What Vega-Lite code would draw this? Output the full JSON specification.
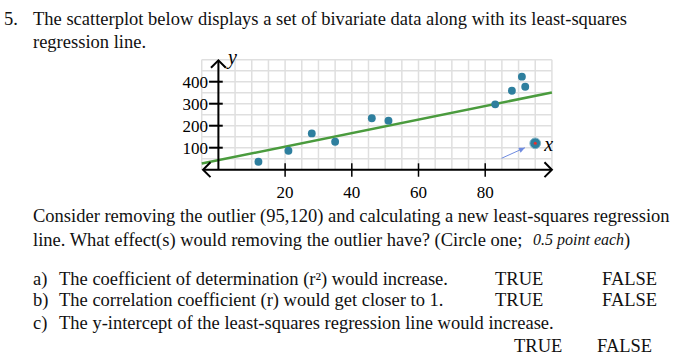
{
  "$schema": "https://vega.github.io/schema/vega-lite/v6.json",
  "width": 681,
  "height": 360,
  "padding": 0,
  "autosize": {"type": "none"},
  "background": "white",
  "config": {"view": {"stroke": null}, "axis": {"disable": true}},
  "datasets": {
    "gridx": [{"v": -5}, {"v": 0}, {"v": 5}, {"v": 10}, {"v": 15}, {"v": 20}, {"v": 25}, {"v": 30}, {"v": 35}, {"v": 40}, {"v": 45}, {"v": 50}, {"v": 55}, {"v": 60}, {"v": 65}, {"v": 70}, {"v": 75}, {"v": 80}, {"v": 85}, {"v": 90}, {"v": 95}, {"v": 100}],
    "gridy": [{"v": 0}, {"v": 50}, {"v": 100}, {"v": 150}, {"v": 200}, {"v": 250}, {"v": 300}, {"v": 350}, {"v": 400}, {"v": 450}, {"v": 500}],
    "pts": [{"x": 12, "y": 36}, {"x": 21, "y": 86}, {"x": 28, "y": 165}, {"x": 35, "y": 127}, {"x": 46, "y": 234}, {"x": 51, "y": 223}, {"x": 83, "y": 297}, {"x": 88, "y": 359}, {"x": 91, "y": 423}, {"x": 92, "y": 377}],
    "outlier": [{"x": 95, "y": 120}],
    "lsrl": [{"x": -5, "y": 28}, {"x": 100, "y": 351}],
    "heads": [{"x": -4.6, "y": 0, "dir": "left"}, {"x": 100, "y": 0, "dir": "right"}, {"x": 0, "y": 497, "dir": "up"}],
    "yticks": [{"v": 100}, {"v": 200}, {"v": 300}, {"v": 400}],
    "xticks": [{"v": 20}, {"v": 40}, {"v": 60}, {"v": 80}],
    "pointer": [{"x": 84.9, "y": 51.8, "x2": 91.9, "y2": 100}],
    "varlabels": [{"x": 4.2, "y": 508, "t": "y"}, {"x": 99, "y": 114, "t": "x"}],
    "text": [
      {"col": 4, "row": 19, "t": "5."},
      {"col": 33, "row": 19, "t": "The scatterplot below displays a set of bivariate data along with its least-squares"},
      {"col": 33, "row": 42, "t": "regression line."},
      {"col": 33, "row": 216, "t": "Consider removing the outlier (95,120) and calculating a new least-squares regression"},
      {"col": 33, "row": 240, "t": "line. What effect(s) would removing the outlier have? (Circle one; "},
      {"col": 624, "row": 240, "t": ")"},
      {"col": 33, "row": 279, "t": "a)"},
      {"col": 59, "row": 279, "t": "The coefficient of determination (r²) would increase."},
      {"col": 495, "row": 279, "t": "TRUE"},
      {"col": 602, "row": 279, "t": "FALSE"},
      {"col": 33, "row": 300, "t": "b)"},
      {"col": 59, "row": 300, "t": "The correlation coefficient (r) would get closer to 1."},
      {"col": 495, "row": 300, "t": "TRUE"},
      {"col": 602, "row": 300, "t": "FALSE"},
      {"col": 33, "row": 323, "t": "c)"},
      {"col": 59, "row": 323, "t": "The y-intercept of the least-squares regression line would increase."},
      {"col": 514, "row": 346, "t": "TRUE"},
      {"col": 597, "row": 346, "t": "FALSE"}
    ],
    "italic": [{"col": 533, "row": 240, "t": "0.5 point each"}]
  },
  "layer": [
    {
      "layer": [
        {
          "data": {"name": "gridx"},
          "mark": {"type": "rule", "color": "#dfdfdf", "strokeWidth": 1.5},
          "encoding": {
            "x": {"field": "v", "type": "quantitative", "scale": {"domain": [-65.49, 138.71], "nice": false, "zero": false}, "axis": null},
            "y": {"datum": 0, "type": "quantitative", "scale": {"domain": [-865, 771.4], "nice": false, "zero": false}, "axis": null},
            "y2": {"datum": 500}
          }
        },
        {
          "data": {"name": "gridy"},
          "mark": {"type": "rule", "color": "#dfdfdf", "strokeWidth": 1.5},
          "encoding": {
            "y": {"field": "v", "type": "quantitative", "axis": null},
            "x": {"datum": -5, "type": "quantitative", "axis": null},
            "x2": {"datum": 100}
          }
        },
        {
          "data": {"name": "lsrl"},
          "mark": {"type": "line", "color": "#4a9b3d", "strokeWidth": 2.5},
          "encoding": {
            "x": {"field": "x", "type": "quantitative", "axis": null},
            "y": {"field": "y", "type": "quantitative", "axis": null}
          }
        },
        {
          "data": {"values": [{"a": 0}]},
          "mark": {"type": "rule", "color": "black", "strokeWidth": 2},
          "encoding": {
            "x": {"datum": -4.5, "type": "quantitative", "axis": null},
            "x2": {"datum": 99.8},
            "y": {"datum": 0, "type": "quantitative", "axis": null}
          }
        },
        {
          "data": {"values": [{"a": 0}]},
          "mark": {"type": "rule", "color": "black", "strokeWidth": 2},
          "encoding": {
            "y": {"datum": 0, "type": "quantitative", "axis": null},
            "y2": {"datum": 496},
            "x": {"datum": 0, "type": "quantitative", "axis": null}
          }
        },
        {
          "data": {"name": "heads"},
          "mark": {"type": "point", "filled": false, "color": "black", "strokeWidth": 2, "size": 220, "opacity": 1},
          "encoding": {
            "x": {"field": "x", "type": "quantitative", "axis": null},
            "y": {"field": "y", "type": "quantitative", "axis": null},
            "shape": {"field": "dir", "type": "nominal", "legend": null, "scale": {"domain": ["left", "right", "up"], "range": ["M1,-1L0,0L1,1", "M-1,-1L0,0L-1,1", "M-1,1L0,0L1,1"]}}
          }
        },
        {
          "data": {"name": "yticks"},
          "mark": {"type": "rule", "color": "black", "strokeWidth": 2},
          "encoding": {
            "y": {"field": "v", "type": "quantitative", "axis": null},
            "x": {"datum": -2.8, "type": "quantitative", "axis": null},
            "x2": {"datum": 1.3}
          }
        },
        {
          "data": {"name": "xticks"},
          "mark": {"type": "rule", "color": "black", "strokeWidth": 1.5},
          "encoding": {
            "x": {"field": "v", "type": "quantitative", "axis": null},
            "y": {"datum": -32, "type": "quantitative", "axis": null},
            "y2": {"datum": 29}
          }
        },
        {
          "data": {"name": "yticks"},
          "mark": {"type": "text", "font": "Liberation Serif", "fontSize": 17, "align": "right", "baseline": "middle", "color": "black", "dx": -1, "dy": 1},
          "encoding": {
            "y": {"field": "v", "type": "quantitative", "axis": null},
            "x": {"datum": -2.8, "type": "quantitative", "axis": null},
            "text": {"field": "v"}
          }
        },
        {
          "data": {"name": "xticks"},
          "mark": {"type": "text", "font": "Liberation Serif", "fontSize": 17, "align": "center", "baseline": "middle", "color": "black"},
          "encoding": {
            "x": {"field": "v", "type": "quantitative", "axis": null},
            "y": {"datum": -104, "type": "quantitative", "axis": null},
            "text": {"field": "v"}
          }
        },
        {
          "data": {"name": "varlabels"},
          "mark": {"type": "text", "font": "Liberation Serif", "fontStyle": "italic", "fontSize": 20, "align": "center", "baseline": "middle", "color": "black"},
          "encoding": {
            "x": {"field": "x", "type": "quantitative", "axis": null},
            "y": {"field": "y", "type": "quantitative", "axis": null},
            "text": {"field": "t"}
          }
        },
        {
          "data": {"name": "pointer"},
          "mark": {"type": "rule", "color": "#6f8be0", "strokeWidth": 1},
          "encoding": {
            "x": {"field": "x", "type": "quantitative", "axis": null},
            "y": {"field": "y", "type": "quantitative", "axis": null},
            "x2": {"field": "x2"},
            "y2": {"field": "y2"}
          }
        },
        {
          "data": {"name": "pointer"},
          "mark": {"type": "point", "filled": true, "color": "#6f8be0", "size": 100, "opacity": 1, "shape": "M0,0L-1.2,-0.55L-1.2,0.55Z", "angle": 335},
          "encoding": {
            "x": {"field": "x2", "type": "quantitative", "axis": null},
            "y": {"field": "y2", "type": "quantitative", "axis": null}
          }
        },
        {
          "data": {"name": "pts"},
          "mark": {"type": "circle", "color": "#2e7f9e", "size": 62, "opacity": 1},
          "encoding": {
            "x": {"field": "x", "type": "quantitative", "axis": null},
            "y": {"field": "y", "type": "quantitative", "axis": null}
          }
        },
        {
          "data": {"name": "outlier"},
          "mark": {"type": "circle", "color": "#2e7f9e", "size": 115, "opacity": 1, "stroke": "#7fb3c6", "strokeWidth": 1},
          "encoding": {
            "x": {"field": "x", "type": "quantitative", "axis": null},
            "y": {"field": "y", "type": "quantitative", "axis": null}
          }
        },
        {
          "data": {"name": "outlier"},
          "mark": {"type": "circle", "color": "#e8302c", "size": 9, "opacity": 1},
          "encoding": {
            "x": {"field": "x", "type": "quantitative", "axis": null},
            "y": {"field": "y", "type": "quantitative", "axis": null}
          }
        }
      ]
    },
    {
      "layer": [
        {
          "data": {"name": "text"},
          "mark": {"type": "text", "font": "Liberation Serif", "fontSize": 18.5, "align": "left", "baseline": "middle", "color": "#111111"},
          "encoding": {
            "x": {"field": "col", "type": "quantitative", "scale": {"domain": [0, 681], "nice": false, "zero": false}, "axis": null},
            "y": {"field": "row", "type": "quantitative", "scale": {"domain": [0, 360], "reverse": true, "nice": false, "zero": false}, "axis": null},
            "text": {"field": "t"}
          }
        },
        {
          "data": {"name": "italic"},
          "mark": {"type": "text", "font": "Liberation Serif", "fontStyle": "italic", "fontSize": 16, "align": "left", "baseline": "middle", "color": "#111111"},
          "encoding": {
            "x": {"field": "col", "type": "quantitative", "axis": null},
            "y": {"field": "row", "type": "quantitative", "axis": null},
            "text": {"field": "t"}
          }
        }
      ]
    }
  ],
  "resolve": {"scale": {"x": "independent", "y": "independent"}}
}
